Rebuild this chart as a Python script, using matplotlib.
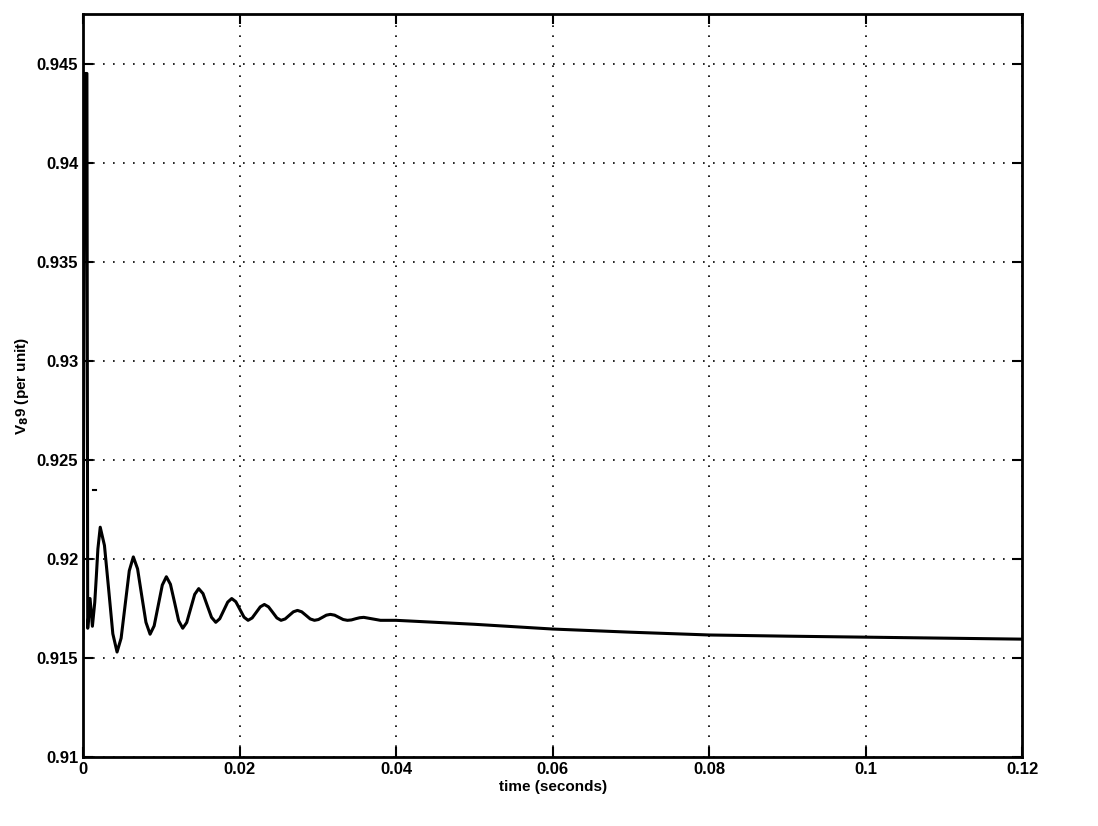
import matplotlib.pyplot as plt

# values (time in s, voltage in per unit)
t = [0.0, 0.0002, 0.0005, 0.0006, 0.0009, 0.0012, 0.0015, 0.0017, 0.0019, 0.0022,
     0.00274, 0.00328, 0.00381, 0.00435,
     0.00487, 0.00539, 0.00591, 0.00643,
     0.00697, 0.0075, 0.00804, 0.00857,
     0.00909, 0.00961, 0.01013, 0.01065,
     0.01117, 0.0117, 0.01222, 0.01274,
     0.01325, 0.01376, 0.01427, 0.01478,
     0.01533, 0.01587, 0.01642, 0.01696,
     0.01747, 0.01798, 0.01849, 0.019,
     0.01952, 0.02005, 0.02057, 0.02109,
     0.02161, 0.02213, 0.02265, 0.02317,
     0.0237, 0.02424, 0.02477, 0.0253,
     0.02583, 0.02635, 0.02688, 0.0274,
     0.02794, 0.02849, 0.02903, 0.02957,
     0.03008, 0.03059, 0.03109, 0.0316,
     0.03215, 0.03269, 0.03324, 0.03378,
     0.0343, 0.03483, 0.03535, 0.03587,
     0.038, 0.04, 0.05, 0.06, 0.07, 0.08, 0.09, 0.1, 0.11, 0.12]
v = [0.9160, 0.9445, 0.9445, 0.9165, 0.9180, 0.9166, 0.9178, 0.9191, 0.9205, 0.9216,
     0.92068, 0.91845, 0.91622, 0.9153,
     0.9160, 0.9177, 0.9194, 0.9201,
     0.9195, 0.91815, 0.9168, 0.9162,
     0.91662, 0.91765, 0.91868, 0.9191,
     0.91872, 0.9178, 0.91688, 0.9165,
     0.91679, 0.9175, 0.91821, 0.9185,
     0.91825, 0.91765, 0.91705, 0.9168,
     0.91698, 0.9174, 0.91782, 0.9180,
     0.91784, 0.91745, 0.91706, 0.9169,
     0.91702, 0.9173, 0.91758, 0.9177,
     0.91758, 0.9173, 0.91702, 0.9169,
     0.91697, 0.91715, 0.91733, 0.9174,
     0.91733, 0.91715, 0.91697, 0.9169,
     0.91694, 0.91705, 0.91716, 0.9172,
     0.91716, 0.91705, 0.91694, 0.9169,
     0.91692, 0.91698, 0.91703, 0.91705,
     0.9169, 0.9169, 0.9167, 0.91646, 0.9163, 0.91616, 0.9161, 0.91605, 0.9160, 0.91595]

xticks = [0, 0.02, 0.04, 0.06, 0.08, 0.1, 0.12]
xticklabels = ['0', '0.02', '0.04', '0.06', '0.08', '0.1', '0.12']
yticks = [0.91, 0.915, 0.92, 0.925, 0.93, 0.935, 0.94, 0.945]
yticklabels = ['0.91', '0.915', '0.92', '0.925', '0.93', '0.935', '0.94', '0.945']

plt.rcParams['font.family'] = ['Liberation Sans', 'DejaVu Sans']
plt.rcParams['font.weight'] = 'bold'

fig = plt.figure(figsize=(10.98, 8.26), dpi=100)
ax = fig.add_axes([0.0756, 0.0835, 0.8554, 0.8995])
ax.plot(t, v, color='black', linewidth=2.2)
ax.plot([0.0013, 0.0017], [0.9235, 0.9235], color='black', linewidth=1.5)

ax.set_xlim(0, 0.12)
ax.set_ylim(0.91, 0.9475)
ax.set_xticks(xticks)
ax.set_xticklabels(xticklabels, fontsize=12, fontweight='bold')
ax.set_yticks(yticks)
ax.set_yticklabels(yticklabels, fontsize=12, fontweight='bold')
ax.tick_params(direction='in', length=7, width=1.5, top=True, right=True)
ax.grid(True, linestyle=(0, (1, 5)), color='black', linewidth=1.2)
for s in ax.spines.values():
    s.set_linewidth(2)

ax.set_xlabel('time (seconds)', fontsize=11, fontweight='bold', labelpad=2)
ax.set_ylabel(r'V$_{\mathbf{8}}$9 (per unit)', fontsize=11, fontweight='bold', labelpad=4)

fig.savefig('out.png', dpi=100)
